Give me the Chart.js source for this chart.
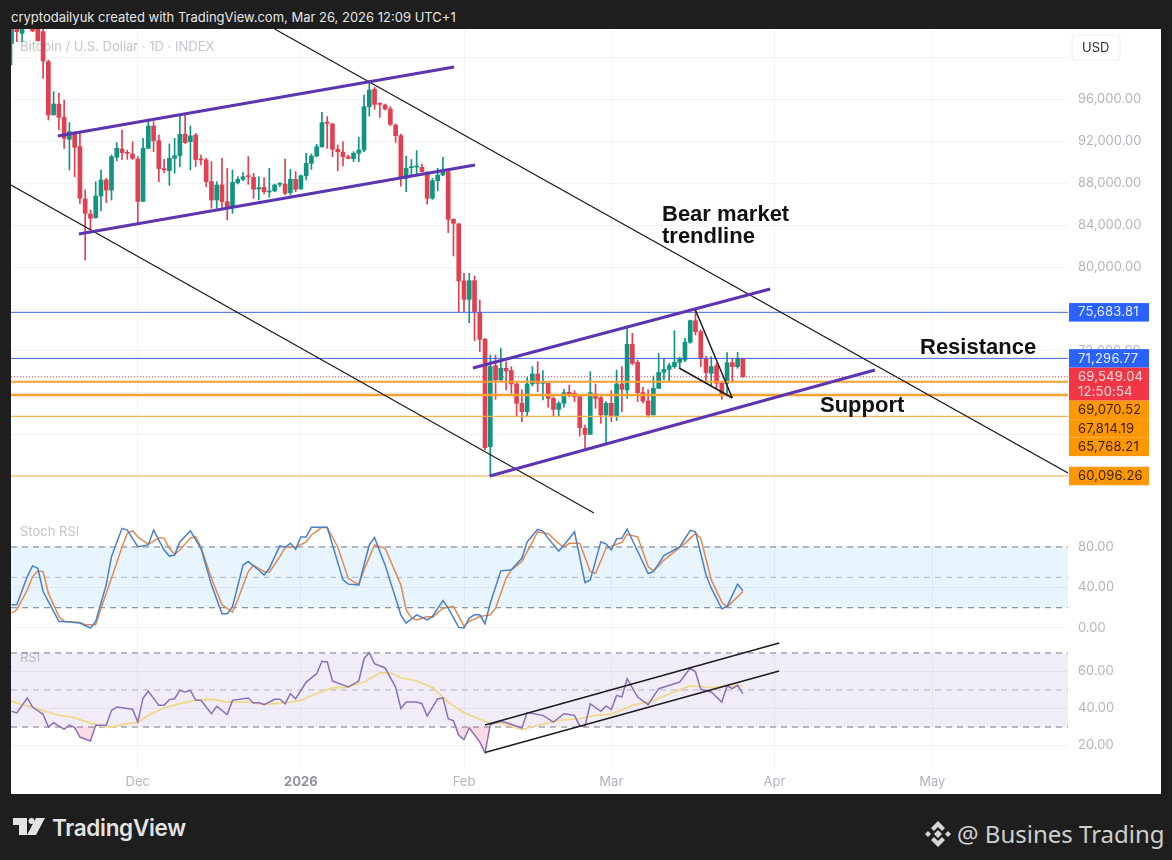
<!DOCTYPE html>
<html>
<head>
<meta charset="utf-8">
<title>BTCUSD</title>
<script src="https://cdn.jsdelivr.net/npm/chart.js@4/dist/chart.umd.js"></script>
<style>
  html, body { margin: 0; padding: 0; background: #1e1e1e; }
  body { width: 1172px; height: 860px; position: relative; overflow: hidden; font-family: Inter, sans-serif; }
  #head { position: absolute; left: 11px; top: 9px; color: #e6e6e6; font-size: 13px; white-space: nowrap; }
  #wrap { position: absolute; left: 11px; top: 29px; width: 1150px; height: 765px; background: #fff; }
  #tvlogo { position: absolute; left: 0; top: 805px; }
  #tvname { position: absolute; left: 52px; top: 814px; color: #e4e4e4; font-size: 22.5px; font-weight: 600; letter-spacing: -0.3px; }
  #bnlogo { position: absolute; left: 922px; top: 818px; }
  #bsname { position: absolute; left: 957px; top: 817px; color: #cfcfcf; font-family: "Noto Sans", sans-serif; font-size: 24px; white-space: nowrap; }
</style>
</head>
<body>
<div id="head">cryptodailyuk created with TradingView.com, Mar 26, 2026 12:09 UTC+1</div>
<div id="wrap"><canvas id="chart" width="1150" height="765"></canvas></div>
<svg id="tvlogo" width="50" height="40">
  <path d="M13 13h14v17h-8v-10h-6z M36 13h9l-9 17h-9z" fill="#e4e4e4"/>
  <circle cx="31.5" cy="16" r="3" fill="#e4e4e4"/>
</svg>
<div id="tvname">TradingView</div>
<svg id="bnlogo" width="32" height="32" viewBox="0 0 32 32" fill="#d6d6d6">
  <path d="M16 3l7 7-3 3-4-4-4 4-3-3z M16 29l-7-7 3-3 4 4 4-4 3 3z M3 16l3-3 3 3-3 3z M23 16l3-3 3 3-3 3z M16 12l4 4-4 4-4-4z"/>
</svg>
<div id="bsname">@ Busines Trading</div>

<script>
// days are counted from 1 Dec 2025
const firstDay = -24;

const opens = [
  101300,103200,102250,104500,103000,103800,102410,99560,94480,95520,
  94250,92160,92730,91460,86480,85050,84700,86760,88290,87330,
  90450,91240,90920,90760,90290,86250,91300,93430,92030,89370,
  89180,90350,90600,92640,91940,92570,90290,90190,88130,86380,
  87810,86220,85680,88030,88350,88700,88540,87430,87590,87140,
  87240,87870,87900,87080,88350,87430,88700,89870,90570,91460,
  93810,93620,91210,90950,90510,90320,90830,91140,95270,96920,
  95590,95430,95050,93520,92510,88440,89460,89520,89490,89020,
  86540,88220,88760,89080,84540,84100,78670,76920,78700,75650,
  73110,62890,70600,69240,70350,70130,68860,67020,66220,68860,
  69810,68920,68920,67490,66440,67020,68060,67970,67650,64640,
  64060,67910,67560,65910,67020,65810,68860,68290,72640,70920,
  68030,67240,65910,68440,69970,70250,70510,70920,71140,72830,
  74890,73840,71300,69870,70600,68920,68920,70890,70510,71300
];
const highs = [
  104000,103900,103800,105500,103600,104000,102800,99720,96700,96540,
  95900,93750,92890,92730,87330,85430,88130,89240,88450,90670,
  91840,93050,91140,91940,90510,92250,93940,93840,92570,90250,
  91720,92250,94480,94570,93430,92730,90670,90350,90030,88130,
  90350,89400,89240,88600,88990,90510,88920,88600,88510,89400,
  87900,88030,90290,89300,89080,88760,90830,90760,91680,94730,
  94320,93680,91620,91940,90670,90980,92350,96380,97750,97110,
  95650,95520,95270,93620,92670,90570,90250,91080,89810,89080,
  88440,89400,90440,89170,84600,84160,79400,79400,79140,76860,
  73210,71620,71620,72250,70980,70510,69080,68290,69490,70510,
  70980,70130,68920,67650,67180,68350,68760,68220,67650,64950,
  70030,68860,67810,67180,68220,70190,70510,74160,73680,71140,
  68540,68290,69620,71780,71300,70830,73940,71400,73210,74950,
  75970,74000,71520,71460,70830,69080,71840,71300,71870,71300
];
const lows = [
  99240,101460,101460,103000,102400,101500,97970,94000,94480,93050,
  91300,89240,88600,86060,80670,83520,84640,85370,86130,86380,
  90130,90250,90250,90250,84160,86250,91300,90990,88130,88990,
  87780,88920,89560,91780,89240,89560,89720,87650,85590,85590,
  85680,84480,85110,87900,88220,87870,86540,86380,86950,86640,
  87180,87650,86860,86860,87170,87400,88290,89300,90510,91400,
  91300,90510,89170,89620,90290,90030,90030,90980,94380,95020,
  94250,94950,93460,91870,87710,87170,88760,88760,89020,86000,
  86440,87270,88700,83270,81050,75750,75750,74700,72980,71940,
  62570,60100,67400,69180,68290,67970,65810,65270,65810,68670,
  68130,67330,66640,65750,65810,66640,67650,67180,63910,62730,
  64060,66540,65110,63210,65270,65370,66220,67490,70670,67180,
  67020,65680,65910,68440,69240,69180,70350,70350,70980,72730,
  73520,70510,68920,68760,68440,67400,67910,68980,70350,69490
];
const closes = [
  103500,102410,103000,105000,102480,101560,99620,94480,95520,94250,
  92250,92890,91400,86540,85110,84640,86760,88290,87330,90510,
  91300,90890,90830,90350,86250,91300,93430,92030,89370,89240,
  90350,90600,92640,91840,92480,90250,90190,88130,86380,87810,
  86220,85680,88060,88350,88600,88600,87400,87560,87180,87240,
  87810,87970,87020,88350,87400,88700,89870,90570,91460,93750,
  93680,91210,90980,90510,90350,90830,91140,95270,96860,95490,
  95490,95050,93590,92510,88600,89400,89560,89620,89080,86540,
  88220,88760,89240,84540,84160,78670,76920,78700,75750,73110,
  62790,70510,69240,70350,70100,68860,67020,66220,68860,69810,
  68920,69080,67490,66440,67020,68030,67910,67650,64700,64060,
  68030,67490,65910,67020,65810,68860,68350,72640,70830,68030,
  67240,65910,68440,69970,70250,70600,70920,71240,72830,74890,
  73840,71300,69940,70510,68920,67910,70890,70510,71300,69550
];

const kDays = [
  -24,-23,-21,-20,-19,-18,-16,-15,-14,-11,
  -9,-8,-6,-5,-3,-2,0,2,3,5,
  6,7,8,10,12,14,16,17,18,20,
  21,23,24,25,27,28,29,30,31,32,
  33,36,39,40,42,44,45,47,50,51,
  53,55,56,58,59,61,62,63,64,65,
  66,67,69,71,73,74,76,77,78,80,
  81,83,85,86,88,89,90,91,92,93,
  94,97,98,100,103,105,106,108,109,111,
  112,114,115
];
const kValues = [
  22.9,22.9,50.8,61.3,59,36,16.4,6.5,6.5,4.9,
  0,6.5,42.6,70.5,98.4,96.7,80.3,82,96.7,77,
  71,72,85,96,78.7,42.6,14,14,21,62,
  65.6,57,52.4,59,81,79.7,83.6,77.7,89.8,89.8,
  99.4,99.4,47.5,43.3,42.6,82,89.2,62.3,13,4.9,
  13,8,11.4,27,19.6,0.6,0,9.8,13,13,
  4.2,24.6,56.4,57.4,68.8,85,97.4,95.7,88.5,76,
  82,95,44.9,47.5,85,83,77,88,88.5,97.7,
  86.9,53.8,55.7,71.5,80,96.4,95,52.4,39.3,19,
  21.3,43.3,36.7
];
const dDays = [
  -24,-23,-21,-20,-19,-18,-17,-15,-14,-11,
  -10,-8,-7,-5,-3,-2,-1,0,2,4,
  5,6,7,8,10,11,12,14,16,18,
  19,21,22,24,25,27,28,30,32,33,
  35,36,38,40,42,43,45,47,50,51,
  52,53,55,56,58,60,62,63,65,67,
  68,70,71,73,75,76,78,80,81,82,
  84,86,87,89,91,92,93,95,97,98,
  100,104,106,107,109,111,112,115
];
const dValues = [
  14.7,18,37.7,50.8,56.4,55.7,34.4,11.4,6.5,5.5,
  3.3,3.3,19.6,49,80,93.4,96,90,82.6,89,
  88.5,78.7,72.8,77,89,90,80,49,23,15.7,
  27.8,55.7,62,55.7,55,70.5,79.7,80,85,91.8,
  99.4,99,80,49,42.6,57.4,82,78.7,42.6,18,
  10,8,11.4,10.5,19.6,21.3,1.6,6.5,11.4,13,
  19.6,49,57.4,65.6,85,95,93,83.6,79.7,83.6,
  83.6,55.7,54,78.7,82.6,84.6,92.5,90,60.6,56.4,
  67,83.6,93.4,88.5,47.5,25.6,20.6,36
];
const rsiDays = [
  -24,-23,-21,-20,-18,-17,-16,-14,-13,-12,
  -11,-9,-8,-6,-5,-4,-1,0,1,2,
  4,5,6,7,8,9,10,11,12,14,
  15,17,18,21,22,23,24,26,27,28,
  29,30,32,34,35,36,37,40,42,43,
  44,45,47,49,50,51,53,54,55,57,
  58,59,60,61,62,63,65,66,67,69,
  70,73,74,77,79,81,83,84,85,86,
  88,89,90,91,92,93,95,97,99,103,
  105,106,107,109,111,112,113,114,115
];
const rsiValues = [
  38.5,37.6,45.7,40.8,36.9,30,32.4,28.8,31,29.7,
  24.6,22.5,31,31,39,40.8,39.6,32.7,45.7,49.3,
  41.7,41.7,44.8,45.3,49.8,48.9,49.8,44.4,44.4,37.2,
  41.2,36.7,44.4,45.7,43,43.2,42.1,45,45,42.6,
  48,45.3,54.3,58.8,65.5,65.1,54.9,51.6,54.9,66.9,
  70.2,64.2,61.9,51.6,40,43.5,43.5,42.6,36,45.3,
  45.7,34.5,33.3,25.5,23.2,29.5,22,16.2,31.3,33.1,
  32.4,29.5,37.8,36.3,32.7,37.2,36.3,30.6,30.6,42.6,
  38.5,41.4,39.4,47.1,46.2,56.1,46.2,42.1,50.7,54.3,
  61.9,59.7,50.4,48.9,43.5,52.2,50.7,52.5,48
];
const maDays = [
  -24,-22,-20,-17,-15,-13,-10,-7,-5,-3,0,2,5,8,11,14,17,21,24,28,31,34,37,40,43,46,48,50,
  53,56,59,62,67,69,73,76,80,84,87,90,94,98,102,105,109,113,115
];
const maValues = [
  43.9,42.1,40.8,38.1,36.3,35.8,33.1,30.6,29.9,31.3,32.7,36.3,40.3,42.6,44.4,45,43.5,43.5,42.3,43,44.4,48,51.1,51.6,54.3,59.2,59.2,56.7,
  54.9,51.3,43.5,37.8,31.8,32.4,28.6,30.9,33.6,34.5,36.3,36.9,41.7,44.4,48.9,52.2,51.3,52.5,52.2
];

const priceTicks = [60000,64000,68000,72000,76000,80000,84000,88000,92000,96000,100000];
const stochTicks = [0,40,80];
const rsiTicks = [20,40,60];
const monthTicks = [0,31,62,90,121,151];
const monthLabels = ["Dec","2026","Feb","Mar","Apr","May"];

const levelBlueA = 75683.81;
const levelBlueB = 71296.77;
const lastPrice = 69549.04;
const levelOrangeA = 69070.52;
const levelOrangeB = 67814.19;
const levelOrangeC = 65768.21;
const levelOrangeD = 60096.26;

// drawn trendlines, [day, price] pairs
const bearUpper = [[26,102667],[176.8,60380]];
const bearLower = [[-24.1,87810],[86.7,56571]];
const channelTopA = [[-15.2,92476],[60.1,99048]];
const channelBotA = [[-11.2,83143],[64.1,89714]];
const channelTopB = [[63.7,70380],[120.2,77904]];
const channelBotB = [[66.9,60095],[140.1,70190]];
const wedgeA = [[105.9,76000],[113,67523]];
const wedgeB = [[102.9,70380],[113,67523]];
const rsiChannelTop = [[66,31.1],[121.9,75.4]];
const rsiChannelBot = [[66,16.3],[121.9,60.3]];

const xMin = -24.1, xMax = 176.8;
const tickGrey = "#b2b5be";
const gridGrey = "#f1f3f7";
const font = "Inter, sans-serif";

function pts(pairs) {
  return pairs.map(p => ({ x: p[0], y: p[1] }));
}
function lineDs(data, color, width, axis, order, extra) {
  return Object.assign({
    type: "line", data: data, yAxisID: axis, order: order,
    borderColor: color, borderWidth: width,
    pointRadius: 0, tension: 0, fill: false
  }, extra || {});
}
function zip(days, vals) {
  return days.map((d, i) => ({ x: d, y: vals[i] }));
}
function hline(v, color, width, axis, order, extra) {
  return lineDs([{ x: xMin, y: v }, { x: xMax, y: v }], color, width, axis, order, extra);
}

const days = opens.map((_, i) => firstDay + i);
const candleColors = opens.map((o, i) => closes[i] >= o ? "#0f9582" : "#e23f50");

const datasets = [
  { type: "bar", yAxisID: "y", order: 21, grouped: false, barThickness: 1,
    data: days.map((d, i) => ({ x: d, y: [lows[i], highs[i]] })), backgroundColor: candleColors },
  { type: "bar", yAxisID: "y", order: 20, grouped: false, barThickness: 4, minBarLength: 1,
    data: days.map((d, i) => ({ x: d, y: [opens[i], closes[i]] })), backgroundColor: candleColors },

  hline(levelBlueA, "#3b66d8", 1, "y", 10),
  hline(levelBlueB, "#3b66d8", 1, "y", 10),
  hline(lastPrice, "#f23645", 1, "y", 10, { borderDash: [1, 2] }),
  hline(levelOrangeA, "#f9a12e", 2, "y", 9),
  hline(levelOrangeB, "#f9a12e", 2.5, "y", 9),
  hline(levelOrangeC, "#f6b04e", 1.2, "y", 9),
  hline(levelOrangeD, "#f6b04e", 1.2, "y", 9),

  lineDs(pts(bearUpper), "#1c1c1c", 1.2, "y", 5),
  lineDs(pts(bearLower), "#1c1c1c", 1.2, "y", 5),
  lineDs(pts(wedgeA), "#1c1c1c", 1.5, "y", 5),
  lineDs(pts(wedgeB), "#1c1c1c", 1.5, "y", 5),
  lineDs(pts(channelTopA), "#5e35b1", 3, "y", 4),
  lineDs(pts(channelBotA), "#5e35b1", 3, "y", 4),
  lineDs(pts(channelTopB), "#5e35b1", 3, "y", 4),
  lineDs(pts(channelBotB), "#5e35b1", 3, "y", 4),

  hline(80, "#787b86", 1, "yStoch", 6, { borderDash: [6, 5], fill: { target: { value: 20 }, above: "rgba(33,150,243,0.1)" } }),
  hline(50, "rgba(120,123,134,0.5)", 1, "yStoch", 6, { borderDash: [6, 5] }),
  hline(20, "#787b86", 1, "yStoch", 6, { borderDash: [6, 5] }),
  lineDs(zip(dDays, dValues), "#e58a4e", 1.5, "yStoch", 3),
  lineDs(zip(kDays, kValues), "#4a80c8", 1.5, "yStoch", 2),

  hline(70, "#787b86", 1, "yRsi", 6, { borderDash: [6, 5], fill: { target: { value: 30 }, above: "rgba(126,87,194,0.11)" } }),
  hline(50, "rgba(120,123,134,0.5)", 1, "yRsi", 6, { borderDash: [6, 5] }),
  hline(30, "#787b86", 1, "yRsi", 6, { borderDash: [6, 5] }),
  lineDs(zip(maDays, maValues), "#f0d98a", 1.8, "yRsi", 3),
  lineDs(zip(rsiDays, rsiValues), "#8a70b8", 1.5, "yRsi", 2,
    { fill: { target: { value: 30 }, above: "rgba(0,0,0,0)", below: "rgba(242,54,110,0.18)" } }),
  lineDs(pts(rsiChannelTop), "#1c1c1c", 1.5, "yRsi", 1),
  lineDs(pts(rsiChannelBot), "#1c1c1c", 1.5, "yRsi", 1)
];

function fixY(scale) {
  scale.width = 93;
  scale.paddingTop = 0;
  scale.paddingBottom = 0;
}
function yAxis(weight, min, max, tickList, fmt) {
  return {
    type: "linear", position: "right", stack: "panes", stackWeight: weight, min: min, max: max,
    border: { display: false },
    grid: { color: gridGrey, drawTicks: false },
    afterBuildTicks: s => { s.ticks = tickList.map(v => ({ value: v })); },
    afterFit: fixY,
    ticks: { padding: 10, autoSkip: false, color: tickGrey, font: { family: font, size: 13 }, callback: fmt }
  };
}
const money = v => v > 96000 ? "" : v.toLocaleString("en-US", { minimumFractionDigits: 2 });
const isYearTick = ctx => ctx.tick && ctx.tick.value === 31;

// text and price tags that TradingView paints over the panes
const paneTitles = {
  id: "paneTitles",
  beforeDatasetsDraw(chart) {
    const c = chart.ctx;
    c.save();
    c.fillStyle = "#c3c5cc";
    c.font = "13px " + font;
    c.fillText("Bitcoin / U.S. Dollar · 1D · INDEX", 9, 22);
    c.fillText("Stoch RSI", 9, 507);
    c.fillText("RSI", 9, 633);
    c.restore();
  }
};
const tags = [
  { v: levelBlueA, bg: "#2962ff", fg: "#e8eeff" },
  { v: levelBlueB, bg: "#2962ff", fg: "#e8eeff" },
  { v: lastPrice, bg: "#f23645", fg: "#fde3e6", sub: "12:50:54" },
  { v: levelOrangeA, bg: "#ff9800", fg: "#3b2300" },
  { v: levelOrangeB, bg: "#ff9800", fg: "#3b2300" },
  { v: levelOrangeC, bg: "#ff9800", fg: "#3b2300" },
  { v: levelOrangeD, bg: "#ff9800", fg: "#3b2300" }
];
const overlayText = {
  id: "overlayText",
  afterDraw(chart) {
    const c = chart.ctx, y = chart.scales.y, left = chart.chartArea.right + 1;
    c.save();
    c.font = "13px " + font;
    c.letterSpacing = "0.2px";
    c.textBaseline = "middle";
    let bottom = -100;
    tags.forEach(t => {
      const h = t.sub ? 33 : 18.5;
      const top = Math.max(y.getPixelForValue(t.v) - 9.25, bottom);
      c.fillStyle = t.bg;
      c.fillRect(left, top, 80, h);
      c.fillStyle = t.fg;
      c.fillText(t.v.toLocaleString("en-US", { minimumFractionDigits: 2 }), left + 9, top + 9.5);
      if (t.sub) c.fillText(t.sub, left + 9, top + 24);
      bottom = top + h;
    });
    c.letterSpacing = "0px";
    // USD box
    c.fillStyle = "#fff";
    c.strokeStyle = "#eceef2";
    c.beginPath();
    c.roundRect(1061, 6, 48, 25, 4);
    c.fill();
    c.stroke();
    c.fillStyle = "#2a2e39";
    c.fillText("USD", 1071, 19);
    // hand written labels
    c.textBaseline = "alphabetic";
    c.fillStyle = "#111";
    c.font = "bold 22px 'Liberation Sans', sans-serif";
    c.fillText("Bear market", 651, 192);
    c.fillText("trendline", 651, 214);
    c.fillText("Resistance", 909, 325);
    c.fillText("Support", 809, 383);
    c.restore();
  }
};

new Chart(document.getElementById("chart"), {
  type: "bar",
  data: { datasets: datasets },
  plugins: [paneTitles, overlayText],
  options: {
    responsive: false,
    animation: false,
    layout: { padding: 0 },
    plugins: { legend: { display: false }, tooltip: { enabled: false } },
    scales: {
      x: {
        type: "linear", min: xMin, max: xMax, offset: false,
        border: { display: false },
        grid: { color: gridGrey, offset: false, drawTicks: false },
        afterBuildTicks: s => { s.ticks = monthTicks.map(v => ({ value: v })); },
        afterFit: s => { s.height = 24; },
        ticks: {
          padding: 4, autoSkip: false, maxRotation: 0,
          color: ctx => isYearTick(ctx) ? "#8f929c" : tickGrey,
          font: ctx => ({ family: font, size: 13, weight: isYearTick(ctx) ? "bold" : "normal" }),
          callback: v => monthLabels[monthTicks.indexOf(v)]
        }
      },
      y: yAxis(489, 56095, 102667, priceTicks, money),
      yStoch: yAxis(122, -11.85, 108.6, stochTicks, v => v.toFixed(2)),
      yRsi: yAxis(130, 6.8, 77, rsiTicks, v => v.toFixed(2))
    }
  }
});
</script>
</body>
</html>
